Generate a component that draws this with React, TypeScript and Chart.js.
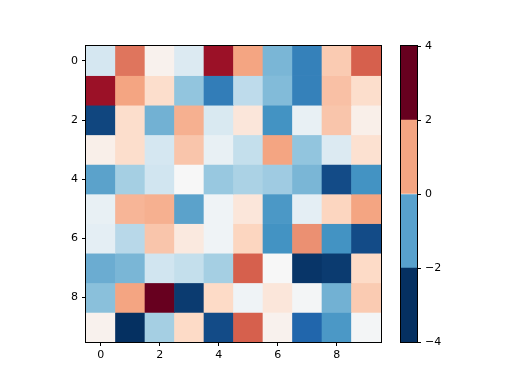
import React, { useEffect, useRef } from "react";
import { Chart, registerables } from "chart.js";

Chart.register(...registerables);

const rowLabels = [0, 1, 2, 3, 4, 5, 6, 7, 8, 9];
const colLabels = [0, 1, 2, 3, 4, 5, 6, 7, 8, 9];
const tickValues = [0, 2, 4, 6, 8];

const row0 = [-0.45, 1.35, 0.1, -0.35, 2.15, 1.0, -1.15, -1.7, 0.65, 1.5];
const row1 = [2.15, 1.0, 0.45, -1.0, -1.75, -0.65, -1.1, -1.7, 0.75, 0.45];
const row2 = [-2.3, 0.45, -1.2, 0.9, -0.4, 0.3, -1.5, -0.2, 0.7, 0.15];
const row3 = [0.15, 0.45, -0.45, 0.7, -0.2, -0.6, 1.0, -1.0, -0.35, 0.4];
const row4 = [-1.35, -0.85, -0.5, 0.0, -0.95, -0.8, -0.9, -1.15, -2.25, -1.5];
const row5 = [-0.2, 0.85, 0.9, -1.35, -0.1, 0.3, -1.45, -0.25, 0.55, 1.0];
const row6 = [-0.25, -0.7, 0.7, 0.25, -0.1, 0.55, -1.5, 1.15, -1.5, -2.25];
const row7 = [-1.25, -1.15, -0.5, -0.6, -0.85, 1.5, 0.0, -2.45, -2.4, 0.5];
const row8 = [-1.05, 1.0, 2.5, -2.4, 0.5, -0.1, 0.3, -0.05, -1.2, 0.65];
const row9 = [0.1, -2.5, -0.85, 0.5, -2.25, 1.5, 0.1, -2.0, -1.45, -0.05];
const rows = [row0, row1, row2, row3, row4, row5, row6, row7, row8, row9];

const vmin = -2.5;
const vmax = 2.5;

const cbBounds = [-4, -2, 0, 2, 4];
const cbColors = ["#053061", "#58a1cd", "#f4a582", "#67001f"];
const cbTicks = [-4, -2, 0, 2, 4];

const rdbuR = [
  "#053061", "#2166ac", "#4393c3", "#92c5de", "#d1e5f0", "#f7f7f7",
  "#fddbc7", "#f4a582", "#d6604d", "#b2182b", "#67001f",
];

function hexToRgb(h: string) {
  return [parseInt(h.slice(1, 3), 16), parseInt(h.slice(3, 5), 16), parseInt(h.slice(5, 7), 16)];
}

function cmap(v: number) {
  let t = (v - vmin) / (vmax - vmin);
  t = Math.max(0, Math.min(1, t));
  const pos = t * (rdbuR.length - 1);
  const i = Math.min(Math.floor(pos), rdbuR.length - 2);
  const f = pos - i;
  const a = hexToRgb(rdbuR[i]);
  const b = hexToRgb(rdbuR[i + 1]);
  const c = a.map((x, k) => Math.round(x + (b[k] - x) * f));
  return `rgb(${c[0]},${c[1]},${c[2]})`;
}

const FONT = { family: "DejaVu Sans", size: 11 };

const framePlugin = {
  id: "frame",
  afterDatasetsDraw(chart: any) {
    const { ctx, chartArea } = chart;
    ctx.save();
    ctx.strokeStyle = "#000";
    ctx.lineWidth = 1;
    ctx.strokeRect(
      Math.round(chartArea.left) - 0.5,
      Math.round(chartArea.top) - 0.5,
      Math.round(chartArea.right - chartArea.left) + 1,
      Math.round(chartArea.bottom - chartArea.top) + 1
    );
    ctx.restore();
  },
};

export default function App() {
  const ref1 = useRef<HTMLCanvasElement>(null);
  const ref2 = useRef<HTMLCanvasElement>(null);

  useEffect(() => {
    const datasets = rows.map((vals, r) => ({
      label: String(rowLabels[r]),
      data: colLabels.map((c) => ({ x: c, y: [r - 0.5, r + 0.5] })),
      backgroundColor: vals.map((v) => cmap(v)),
      borderWidth: 0,
      barPercentage: 1,
      categoryPercentage: 1,
      grouped: false,
    }));

    const c1 = new Chart(ref1.current!, {
      type: "bar",
      data: { datasets: datasets as any },
      options: {
        animation: false,
        responsive: false,
        layout: { padding: { left: 50, right: 131, top: 46, bottom: 12 } },
        plugins: { legend: { display: false }, tooltip: { enabled: false } },
        scales: {
          x: {
            type: "linear",
            min: -0.5,
            max: 9.5,
            offset: false,
            afterBuildTicks: (s: any) => {
              s.ticks = tickValues.map((v) => ({ value: v }));
            },
            afterFit: (s: any) => {
              s.height = 30;
            },
            grid: { display: true, drawOnChartArea: false, drawTicks: true, tickLength: 4, color: "#000", offset: false },
            border: { display: false },
            ticks: { color: "#000", font: FONT, padding: 3, maxRotation: 0, autoSkip: false },
          },
          y: {
            type: "linear",
            reverse: true,
            min: -0.5,
            max: 9.5,
            afterBuildTicks: (s: any) => {
              s.ticks = tickValues.map((v) => ({ value: v }));
            },
            afterFit: (s: any) => {
              s.width = 36;
            },
            grid: { display: true, drawOnChartArea: false, drawTicks: true, tickLength: 4, color: "#000" },
            border: { display: false },
            ticks: { color: "#000", font: FONT, padding: 4, autoSkip: false },
          },
        },
      },
      plugins: [framePlugin],
    });

    const cbData = cbColors.map((col, i) => ({
      label: "cb" + i,
      data: [{ x: 0, y: [cbBounds[i], cbBounds[i + 1]] }],
      backgroundColor: col,
      borderWidth: 0,
      barPercentage: 1,
      categoryPercentage: 1,
      grouped: false,
    }));

    const c2 = new Chart(ref2.current!, {
      type: "bar",
      data: { labels: ["cb"], datasets: cbData as any },
      options: {
        animation: false,
        responsive: false,
        layout: { padding: { left: 401, right: 44, top: 46, bottom: 42 } },
        plugins: { legend: { display: false }, tooltip: { enabled: false } },
        scales: {
          x: { type: "category", display: false, offset: true },
          y: {
            type: "linear",
            position: "right",
            min: -4,
            max: 4,
            afterBuildTicks: (s: any) => {
              s.ticks = cbTicks.map((v) => ({ value: v }));
            },
            afterFit: (s: any) => {
              s.width = 51;
            },
            grid: { display: true, drawOnChartArea: false, drawTicks: true, tickLength: 4, color: "#000" },
            border: { display: false },
            ticks: {
              color: "#000",
              font: FONT,
              padding: 4,
              autoSkip: false,
              callback: (v: any) => (Number(v) < 0 ? "\u2212" + Math.abs(Number(v)) : String(v)),
            },
          },
        },
      },
      plugins: [framePlugin],
    });

    return () => {
      c1.destroy();
      c2.destroy();
    };
  }, []);

  return (
    <div style={{ position: "absolute", left: 0, top: 0, width: 512, height: 384, background: "#fff" }}>
      <canvas ref={ref1} width={512} height={384} style={{ position: "absolute", left: 0, top: 0 }} />
      <canvas ref={ref2} width={512} height={384} style={{ position: "absolute", left: 0, top: 0 }} />
    </div>
  );
}
